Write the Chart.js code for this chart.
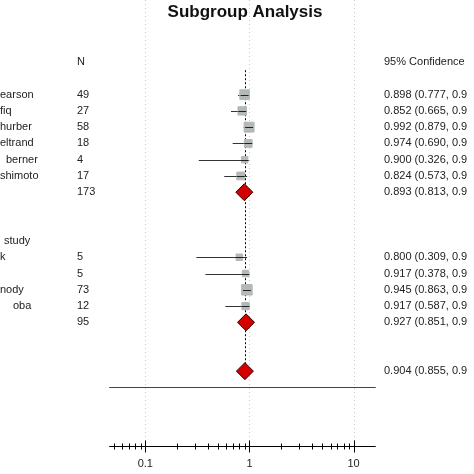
<!DOCTYPE html><html><head><meta charset="utf-8">
<script src="https://cdn.jsdelivr.net/npm/chart.js@4"></script>
<style>html,body{margin:0;padding:0;background:#fff}#w{width:474px;height:474px}</style></head><body>
<div id="w"><canvas id="c"></canvas></div>
<script>
const labels = ["earson","fiq","hurber","eltrand","berner","shimoto","","k","","nody","oba",""];
const labelX = [0,0,0,0,6,0,0,0,0,0,13,0];
const nVals = ["49","27","58","18","4","17","173","5","5","73","12","95"];
const est = [0.898,0.852,0.992,0.974,0.900,0.824,0.893,0.800,0.917,0.945,0.917,0.927];
const lo  = [0.777,0.665,0.879,0.690,0.326,0.573,0.813,0.309,0.378,0.863,0.587,0.851];
const hi  = [0.96,0.94,0.999,0.99,0.97,0.95,0.96,0.95,0.98,0.99,0.99,0.97];
const rows = [2,3,4,5,6,7,8,12,13,14,15,16];
const isPooled = [false,false,false,false,false,false,true,false,false,false,false,true];
const overall = {est:0.904, lo:0.855, row:19};
const majorTicks = [0.1,1,10];
const minorTicks = [0.05,0.06,0.07,0.08,0.09,0.2,0.3,0.4,0.5,0.6,0.7,0.8,0.9,2,3,4,5,6,7,8,9];
const fmt = v => v.toFixed(3);

const studyPts = [], poolPts = [];
rows.forEach((r,i)=>{ (isPooled[i]?poolPts:studyPts).push({x:est[i],y:r,n:+nVals[i]}); });
poolPts.push({x:overall.est,y:overall.row});

const drawPlugin = {
  id:'forest',
  beforeDatasetsDraw(ch){
    const c=ch.ctx, X=ch.scales.x, Y=ch.scales.y;
    c.save();
    c.strokeStyle='#c8c8c8'; c.lineWidth=1; c.setLineDash([1,3]);
    majorTicks.forEach(t=>{const x=Math.round(X.getPixelForValue(t))+0.5;c.beginPath();c.moveTo(x,0);c.lineTo(x,Y.getPixelForValue(23.6));c.stroke();});
    c.strokeStyle='#000'; c.setLineDash([2,2]);
    const sx=Math.round(X.getPixelForValue(overall.est))+0.5;
    c.beginPath();c.moveTo(sx,Y.getPixelForValue(0.5));c.lineTo(sx,Y.getPixelForValue(18.7));c.stroke();
    c.setLineDash([]);
    c.strokeStyle='#333'; c.lineWidth=1;
    rows.forEach((r,i)=>{ if(isPooled[i])return; const y=Math.round(Y.getPixelForValue(r))+0.5;
      c.beginPath();c.moveTo(X.getPixelForValue(lo[i]),y);c.lineTo(X.getPixelForValue(hi[i]),y);c.stroke();});
    const hy=Math.round(Y.getPixelForValue(20))+0.5;
    c.strokeStyle='#444';c.beginPath();c.moveTo(X.getPixelForValue(0.045),hy);c.lineTo(X.getPixelForValue(16.3),hy);c.stroke();
    const ay=Math.round(Y.getPixelForValue(23.6))+0.5;
    c.strokeStyle='#000';c.beginPath();c.moveTo(X.getPixelForValue(0.045),ay);c.lineTo(X.getPixelForValue(16.3),ay);c.stroke();
    minorTicks.forEach(t=>{const x=Math.round(X.getPixelForValue(t))+0.5;c.beginPath();c.moveTo(x,ay-3);c.lineTo(x,ay+3);c.stroke();});
    majorTicks.forEach(t=>{const x=Math.round(X.getPixelForValue(t))+0.5;c.beginPath();c.moveTo(x,ay-6);c.lineTo(x,ay+6);c.stroke();});
    c.fillStyle='#222';c.font='11px Arial, "Liberation Sans", sans-serif';c.textAlign='center';c.textBaseline='middle';
    majorTicks.forEach(t=>c.fillText(String(t),X.getPixelForValue(t),ay+17));
    c.font='bold 17px Arial, "Liberation Sans", sans-serif';c.fillStyle='#111';
    c.fillText('Subgroup Analysis',245,12);
    c.font='11px Arial, "Liberation Sans", sans-serif';c.textAlign='left';c.fillStyle='#222';
    c.fillText('N',77,Y.getPixelForValue(0));
    c.fillText('95% Confidence',384,Y.getPixelForValue(0));
    c.fillText('study',4,Y.getPixelForValue(11));
    rows.forEach((r,i)=>{const y=Y.getPixelForValue(r);
      if(labels[i])c.fillText(labels[i],labelX[i],y);
      c.fillText(nVals[i],77,y);
      c.fillText(fmt(est[i])+' ('+fmt(lo[i])+', 0.9',384,y);});
    c.fillText(fmt(overall.est)+' ('+fmt(overall.lo)+', 0.9',384,Y.getPixelForValue(overall.row));
    c.restore();
  },
  afterDatasetsDraw(ch){
    const c=ch.ctx, X=ch.scales.x, Y=ch.scales.y;
    c.save();c.strokeStyle='#222';c.lineWidth=1;
    rows.forEach((r,i)=>{ if(isPooled[i])return; const y=Math.round(Y.getPixelForValue(r))+0.5;
      const x=X.getPixelForValue(est[i]);c.beginPath();c.moveTo(x-4,y);c.lineTo(x+4,y);c.stroke();});
    c.restore();
  }
};

new Chart(document.getElementById('c'),{
  type:'scatter',
  data:{datasets:[
    {data:studyPts,pointStyle:'rect',backgroundColor:'#b3b8b8',borderColor:'#b3b8b8',
     pointRadius:ctx=>{const n=ctx.raw?ctx.raw.n:10;return 3.6+Math.sqrt(n)*0.45;}},
    {data:poolPts,pointStyle:'rectRot',backgroundColor:'#d40000',borderColor:'#300',borderWidth:1,pointRadius:8.5}
  ]},
  options:{responsive:true,maintainAspectRatio:false,animation:false,
    layout:{padding:0},
    plugins:{legend:{display:false},tooltip:{enabled:false}},
    scales:{
      x:{type:'logarithmic',min:0.00497,max:116,display:false},
      y:{type:'linear',reverse:true,min:-3.233,max:24.74,display:false}
    }},
  plugins:[drawPlugin]
});
</script></body></html>
